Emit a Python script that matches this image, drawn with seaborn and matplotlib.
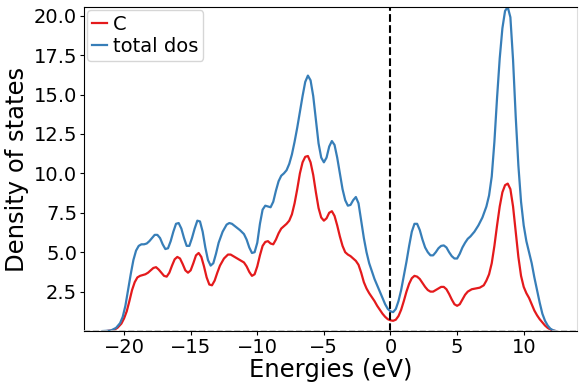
import pandas as pd
import matplotlib
matplotlib.use("Agg")
import matplotlib.pyplot as plt
import seaborn as sns

# energies (eV) and DOS
total_e = [-21.6, -21.0, -20.6, -20.3, -20.1, -19.9, -19.7, -19.5, -19.3, -19.1,
           -18.9, -18.7, -18.5, -18.3, -18.1, -17.9, -17.7, -17.5, -17.3, -17.1,
           -16.9, -16.7, -16.5, -16.3, -16.1, -15.9, -15.7, -15.5, -15.3, -15.1,
           -14.9, -14.7, -14.5, -14.3, -14.1, -13.9, -13.7, -13.5, -13.3, -13.1,
           -12.9, -12.6, -12.3, -12.1, -11.9, -11.6, -11.3, -11.0, -10.8, -10.6,
           -10.4, -10.2, -10.0, -9.8, -9.6, -9.4, -9.2, -9.0, -8.8, -8.6,
           -8.4, -8.2, -8.0, -7.8, -7.6, -7.4, -7.2, -7.0, -6.8, -6.6,
           -6.4, -6.2, -6.0, -5.8, -5.6, -5.4, -5.2, -5.0, -4.8, -4.6,
           -4.4, -4.2, -4.0, -3.8, -3.6, -3.4, -3.2, -3.0, -2.8, -2.6,
           -2.4, -2.2, -2.0, -1.8, -1.6, -1.4, -1.2, -1.0, -0.8, -0.6,
           -0.4, -0.2, 0.0, 0.2, 0.4, 0.6, 0.8, 1.0, 1.2, 1.4,
           1.6, 1.8, 2.0, 2.2, 2.4, 2.6, 2.8, 3.0, 3.2, 3.4,
           3.6, 3.8, 4.0, 4.2, 4.4, 4.6, 4.8, 5.0, 5.2, 5.4,
           5.6, 5.8, 6.0, 6.3, 6.6, 6.9, 7.2, 7.4, 7.6, 7.8,
           8.0, 8.2, 8.4, 8.6, 8.8, 9.0, 9.2, 9.4, 9.6, 9.8,
           10.0, 10.2, 10.4, 10.6, 10.8, 11.0, 11.2, 11.4, 11.6, 11.8,
           12.0, 12.2, 12.4]
total_dos = [0.0, 0.03, 0.2, 0.5, 0.9, 1.6, 2.6, 3.6, 4.5, 5.1,
             5.4, 5.5, 5.5, 5.55, 5.7, 5.9, 6.1, 6.1, 5.9, 5.5,
             5.2, 5.25, 5.7, 6.3, 6.8, 6.85, 6.5, 5.9, 5.4, 5.4,
             5.9, 6.5, 7.0, 6.95, 6.3, 5.3, 4.5, 4.15, 4.3, 4.9,
             5.6, 6.3, 6.75, 6.85, 6.8, 6.6, 6.4, 6.15, 5.8, 5.3,
             4.95, 5.0, 5.6, 6.8, 7.7, 7.95, 7.9, 7.85, 8.2, 8.9,
             9.5, 9.85, 10.0, 10.2, 10.6, 11.2, 12.0, 12.9, 13.9, 14.9,
             15.8, 16.2, 15.9, 14.9, 13.4, 11.9, 11.0, 10.7, 11.0, 11.7,
             12.05, 11.8, 11.0, 10.0, 9.0, 8.3, 7.95, 8.0, 8.3, 8.5,
             8.1, 7.0, 5.9, 5.0, 4.3, 3.8, 3.3, 2.9, 2.5, 2.1,
             1.7, 1.4, 1.25, 1.2, 1.4, 1.9, 2.6, 3.5, 4.4, 5.4,
             6.3, 6.8, 6.8, 6.4, 5.8, 5.3, 5.0, 4.8, 4.8, 5.0,
             5.25, 5.4, 5.43, 5.3, 5.0, 4.75, 4.6, 4.6, 4.9, 5.3,
             5.6, 5.85, 6.0, 6.3, 6.7, 7.2, 7.9, 8.6, 9.8, 12.0,
             14.8, 17.3, 19.2, 20.3, 20.55, 19.9, 17.2, 13.6, 10.5, 8.2,
             6.7, 5.7, 5.0, 4.3, 3.4, 2.6, 1.8, 1.1, 0.65, 0.35,
             0.15, 0.05, 0.0]

c_e = [-21.3, -20.8, -20.5, -20.2, -20.0, -19.8, -19.6, -19.4, -19.2, -19.0,
       -18.8, -18.6, -18.4, -18.2, -18.0, -17.8, -17.6, -17.4, -17.2, -17.0,
       -16.8, -16.6, -16.4, -16.2, -16.0, -15.8, -15.6, -15.4, -15.2, -15.0,
       -14.8, -14.6, -14.4, -14.2, -14.0, -13.8, -13.6, -13.4, -13.2, -13.0,
       -12.8, -12.5, -12.2, -12.0, -11.8, -11.5, -11.2, -11.0, -10.8, -10.6,
       -10.4, -10.2, -10.0, -9.8, -9.6, -9.4, -9.2, -9.0, -8.8, -8.6,
       -8.4, -8.2, -8.0, -7.8, -7.6, -7.4, -7.2, -7.0, -6.8, -6.6,
       -6.4, -6.2, -6.0, -5.8, -5.6, -5.4, -5.2, -5.0, -4.8, -4.6,
       -4.4, -4.2, -4.0, -3.8, -3.6, -3.4, -3.2, -3.0, -2.8, -2.6,
       -2.4, -2.2, -2.0, -1.8, -1.6, -1.4, -1.2, -1.0, -0.8, -0.6,
       -0.4, -0.2, 0.0, 0.2, 0.4, 0.6, 0.8, 1.0, 1.2, 1.4,
       1.6, 1.8, 2.0, 2.2, 2.4, 2.6, 2.8, 3.0, 3.2, 3.4,
       3.6, 3.8, 4.0, 4.2, 4.4, 4.6, 4.8, 5.0, 5.2, 5.4,
       5.6, 5.8, 6.1, 6.4, 6.7, 7.0, 7.2, 7.4, 7.6, 7.8,
       8.0, 8.2, 8.4, 8.6, 8.8, 9.0, 9.2, 9.4, 9.6, 9.8,
       10.0, 10.2, 10.4, 10.6, 10.8, 11.0, 11.2, 11.4, 11.6, 11.8,
       12.0, 12.2, 12.4]
c_dos = [0.0, 0.05, 0.2, 0.47, 0.8, 1.25, 1.9, 2.6, 3.1, 3.4,
         3.5, 3.55, 3.6, 3.7, 3.85, 4.0, 4.05, 3.9, 3.7, 3.5,
         3.45, 3.7, 4.15, 4.55, 4.7, 4.6, 4.25, 3.85, 3.7, 3.85,
         4.3, 4.8, 4.95, 4.7, 4.1, 3.4, 2.95, 2.9, 3.2, 3.7,
         4.15, 4.6, 4.85, 4.85, 4.75, 4.6, 4.45, 4.35, 4.1, 3.75,
         3.5, 3.6, 4.1, 4.8, 5.4, 5.65, 5.7, 5.55, 5.5, 5.8,
         6.2, 6.5, 6.65, 6.8, 7.0, 7.4, 8.1, 9.0, 10.0, 10.7,
         11.05, 11.1, 10.7, 9.9, 8.8, 7.8, 7.2, 7.0, 7.15, 7.5,
         7.6, 7.3, 6.7, 6.0, 5.4, 5.0, 4.85, 4.75, 4.6, 4.45,
         4.2, 3.7, 3.1, 2.7, 2.4, 2.15, 1.9, 1.6, 1.35, 1.1,
         0.9, 0.75, 0.68, 0.65, 0.72, 0.95, 1.35, 1.9, 2.5, 3.0,
         3.35, 3.5, 3.45, 3.3, 3.05, 2.8, 2.6, 2.5, 2.5, 2.6,
         2.7, 2.8, 2.8, 2.65, 2.35, 2.0, 1.7, 1.6, 1.7, 2.0,
         2.3, 2.5, 2.65, 2.7, 2.75, 2.9, 3.2, 3.6, 4.3, 5.4,
         6.7, 7.9, 8.8, 9.25, 9.35, 9.0, 7.9, 6.3, 4.7, 3.5,
         2.8, 2.4, 2.1, 1.7, 1.3, 1.0, 0.75, 0.55, 0.35, 0.2,
         0.1, 0.03, 0.0]

yticks = [2.5, 5.0, 7.5, 10.0, 12.5, 15.0, 17.5, 20.0]

colors = sns.color_palette("Set1")

fig, ax = plt.subplots(figsize=(5.84, 3.89), dpi=100)
fig.subplots_adjust(left=0.144, right=0.988, top=0.982, bottom=0.149)

c_df = pd.DataFrame({"E": c_e, "dos": c_dos})
tot_df = pd.DataFrame({"E": total_e, "dos": total_dos})
sns.lineplot(data=c_df, x="E", y="dos", color=colors[0], lw=1.6, label="C", ax=ax)
sns.lineplot(data=tot_df, x="E", y="dos", color=colors[1], lw=1.6, label="total dos", ax=ax)

ax.axvline(0, color="black", ls="--", lw=1.5)
ax.axhline(0, color="#bbbbbb", ls="--", lw=1.2, zorder=3)

ax.set_xlim(-23, 14)
ax.set_ylim(0, max(total_dos))
ax.set_yticks(yticks)
ax.tick_params(labelsize=14, length=3, pad=2)
ax.set_xlabel("Energies (eV)", fontsize=17.5, labelpad=1)
ax.set_ylabel("Density of states", fontsize=17.5, labelpad=3)
ax.spines["right"].set_color("#dddddd")

ax.legend(loc="upper left", fontsize=14, handlelength=0.8, handletextpad=0.3,
          borderaxespad=0.15, labelspacing=0.15, borderpad=0.25)

fig.savefig("out.png", dpi=100)
